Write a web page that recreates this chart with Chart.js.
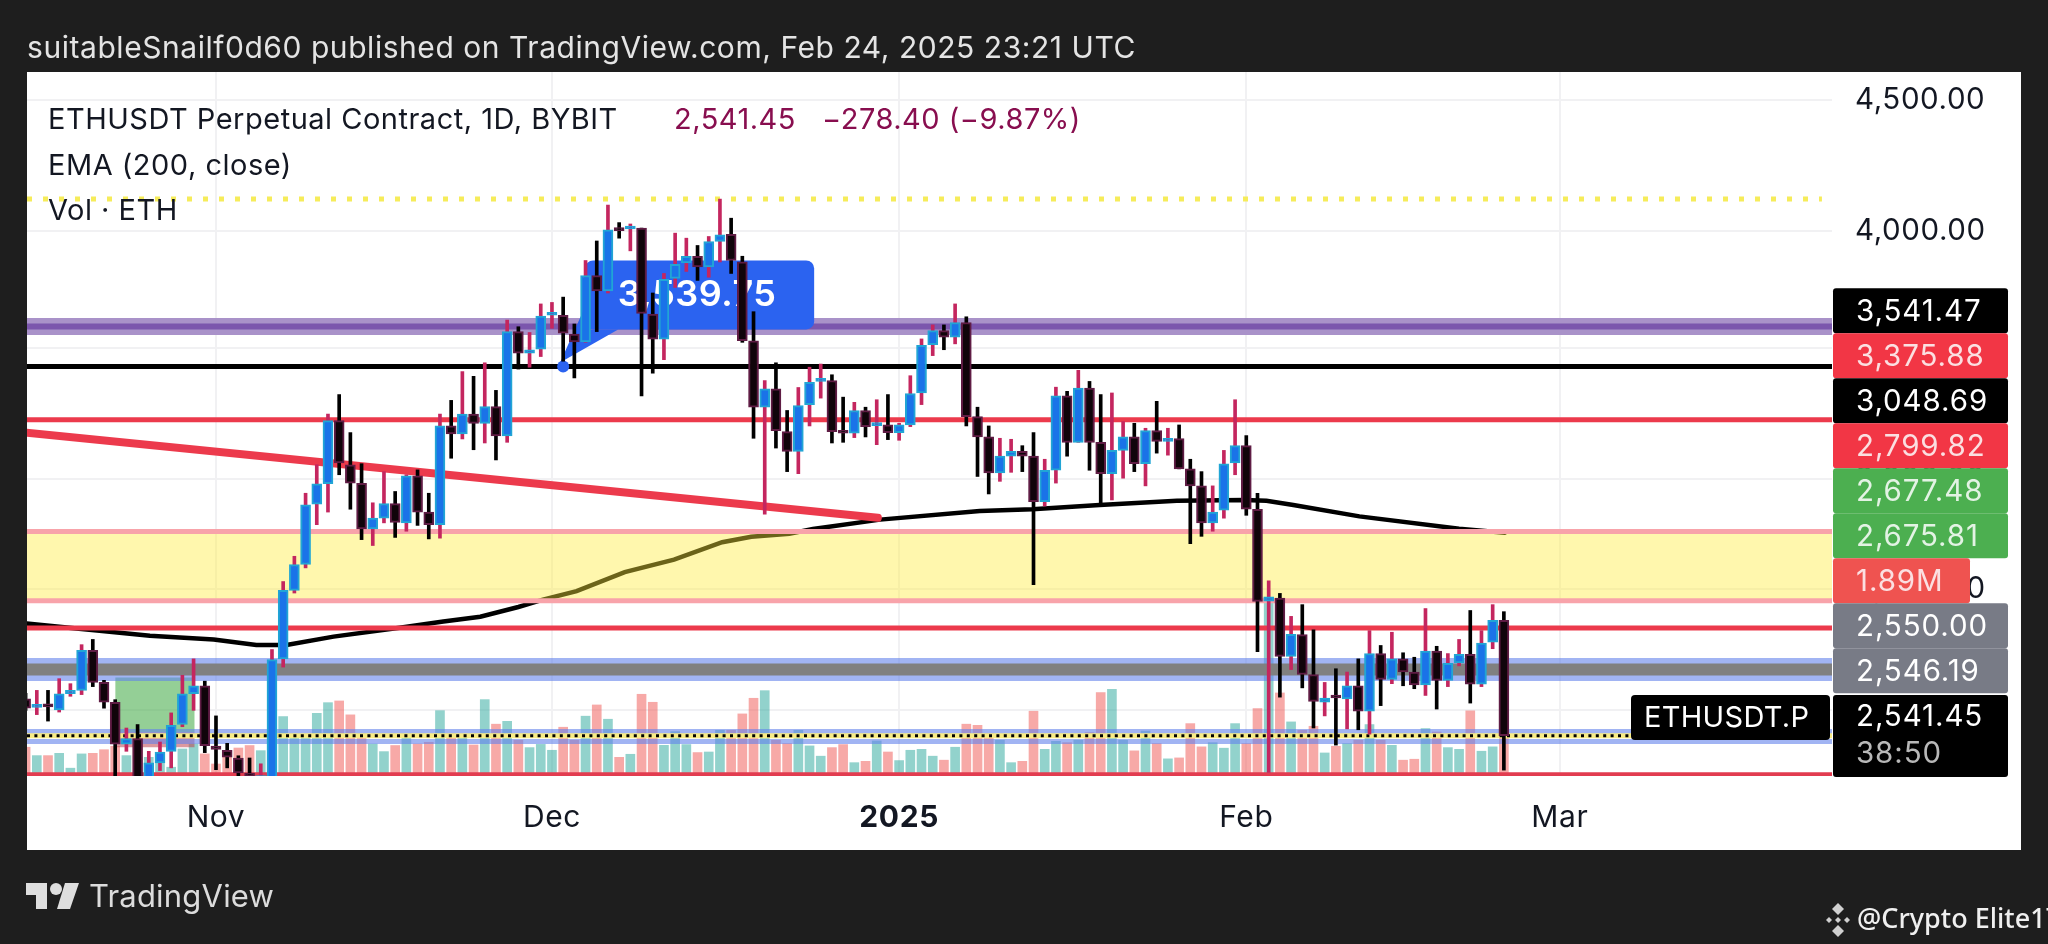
<!DOCTYPE html>
<html>
<head>
<meta charset="utf-8">
<title>ETHUSDT</title>
<script src="https://cdn.jsdelivr.net/npm/chart.js@4/dist/chart.umd.min.js"></script>
<style>
  html, body { margin: 0; padding: 0; background: #1e1e1e; }
  canvas { display: block; }
</style>
</head>
<body>
<canvas id="chart" width="2048" height="944"></canvas>
<script>
// days counted from 1 Nov 2024, first candle is 15 Oct
const firstDay = -17;
const opens = [2627,2607,2611,2601,2639,2647,2744,2666,2619,2522,2535,2430,2480,2506,2567,2639,2658,2518,2508,2491,2456,2445,2420,2723,2896,2964,3129,3187,3373,3242,3188,3060,3090,3131,3077,3210,3107,3072,3357,3333,3393,3365,3416,3327,3654,3584,3597,3708,3708,3646,3620,3843,3790,4006,4007,4010,3712,3629,3833,3887,3910,3873,3962,3988,3890,3624,3414,3471,3340,3281,3422,3494,3497,3340,3335,3404,3358,3360,3337,3360,3458,3611,3657,3636,3684,3385,3324,3218,3267,3281,3267,3136,3226,3449,3308,3473,3308,3216,3284,3324,3245,3343,3311,3319,3230,3181,3077,3112,3247,3298,3115,2868,2876,2729,2783,2685,2619,2633,2627,2658,2598,2736,2673,2723,2691,2660,2742,2671,2713,2734,2662,2764,2819];
const highs = [2640,2647,2647,2675,2663,2758,2771,2671,2625,2559,2567,2506,2527,2594,2683,2723,2669,2587,2524,2496,2491,2478,2746,2919,2986,3160,3242,3393,3453,3337,3245,3133,3222,3165,3213,3227,3160,3393,3435,3525,3510,3553,3466,3692,3670,3651,3746,3751,3769,3679,3895,3964,4094,4030,4025,4010,3783,3850,3992,3974,3948,3980,4116,4046,3910,3720,3497,3553,3404,3475,3539,3549,3515,3445,3429,3414,3437,3453,3365,3512,3630,3676,3676,3746,3703,3414,3357,3320,3317,3298,3337,3258,3476,3463,3529,3494,3453,3458,3370,3365,3350,3432,3350,3360,3258,3222,3181,3284,3437,3328,3160,2921,2888,2829,2859,2795,2666,2699,2691,2723,2793,2756,2789,2738,2727,2849,2754,2736,2771,2844,2793,2859,2841];
const lows = [2600,2590,2575,2596,2633,2637,2656,2605,2410,2506,2410,2400,2463,2469,2562,2600,2503,2465,2469,2440,2440,2440,2400,2703,2889,2955,3072,3107,3213,3115,3031,3015,3077,3037,3054,3070,3033,3035,3261,3318,3286,3306,3256,3308,3533,3539,3573,3665,3558,3505,3619,3654,3783,3974,3929,3449,3520,3563,3802,3857,3826,3837,3890,3850,3619,3320,3101,3291,3222,3216,3357,3442,3306,3308,3322,3324,3301,3316,3314,3355,3422,3576,3595,3614,3357,3208,3158,3194,3220,3222,2911,3124,3189,3267,3308,3226,3127,3141,3203,3222,3181,3276,3270,3230,3020,3040,3054,3090,3213,3098,2741,2459,2631,2697,2653,2559,2587,2520,2557,2555,2545,2611,2663,2658,2651,2635,2603,2656,2706,2617,2656,2748,2464];
const closes = [2605,2611,2608,2639,2647,2744,2666,2619,2522,2535,2430,2480,2504,2565,2639,2658,2519,2510,2493,2458,2451,2452,2721,2896,2964,3127,3187,3373,3247,3189,3060,3090,3131,3078,3210,3107,3072,3357,3333,3393,3365,3416,3327,3654,3584,3595,3705,3714,3649,3620,3843,3790,4004,4001,4012,3714,3629,3830,3882,3910,3873,3962,3986,3895,3624,3414,3471,3343,3281,3419,3491,3501,3340,3335,3404,3355,3363,3337,3360,3456,3609,3657,3636,3684,3385,3324,3218,3267,3281,3267,3136,3226,3449,3308,3473,3308,3216,3284,3324,3245,3343,3311,3319,3230,3181,3077,3107,3245,3298,3115,2867,2879,2729,2784,2685,2621,2629,2629,2658,2598,2736,2673,2723,2691,2660,2742,2671,2712,2734,2662,2762,2819,2541.45];
// volume in millions
const volumes = [1.35,0.91,0.91,1.03,0.25,1.0,1.03,1.22,1.4,0.91,1.7,0.82,1.0,0.3,1.26,1.52,1.0,0.47,0.91,1.31,1.44,1.17,2.57,2.96,2.05,1.87,3.13,3.69,3.78,3.05,2.05,1.52,1.12,1.44,2.05,1.52,1.61,3.27,2.05,1.96,1.47,3.85,2.56,2.71,1.72,1.33,1.5,1.19,2.4,1.72,2.98,3.57,2.82,0.82,0.98,4.13,3.71,1.45,2.17,1.49,1.07,1.1,2.24,2.24,3.1,3.92,4.32,1.72,1.54,2.24,1.42,0.88,1.33,1.49,0.54,0.61,1.68,1.1,0.65,1.19,1.24,0.88,0.67,1.35,2.56,2.5,2.07,1.72,0.54,0.61,3.24,1.24,1.66,1.59,1.72,2.12,4.22,4.39,1.72,1.16,2.2,1.54,0.74,0.79,2.59,1.37,1.59,1.3,2.59,1.54,3.38,8.9,4.2,2.68,2.24,2.45,1.05,1.4,1.54,1.72,2.54,1.72,1.45,0.67,0.72,2.33,2.15,1.33,1.24,3.26,1.14,1.37,1.89];
const emaDays = [-17,-10.4,-5.9,-0.2,3.6,6.3,10.5,16.4,20.3,23.6,27,29.2,32.2,36.5,40.9,45.2,47.8,51.2,53.3,59.3,68.2,72.9,78.9,85.8,91.8,93.8,96.2,102.1,111,115.1];
const emaValues = [2811,2793,2780,2771,2757,2757,2778,2800,2816,2828,2853,2872,2894,2944,2977,3024,3039,3047,3060,3086,3110,3115,3127,3139,3141,3139,3127,3095,3061,3050];
const priceTicks = [4500,4000,3600,3200,2900,2600];
const monthDays = [0,30,61,92,120];
const monthLabels = ['Nov','Dec','2025','Feb','Mar'];
// horizontal drawings
const purpleLevel = 3671, blackLevel = 3541.47, redLevels = [3375.88,2799.82], floorLevel = 2455;
const zoneTop = 3053, zoneBottom = 2869, greyLevel = 2697;
const blueUpper = 2551, blueLower = 2528, lastPrice = 2541.45, dottedTop = 4116;
const trendDays = [-17,59.1], trendPrices = [3337,3091];
const boxDays = [-9,-1.9], boxTarget = 2678, boxEntry = 2549, boxStop = 2515;
const noteDay = 31, notePrice = 3541.47, noteText = '3,539.75';
const xMin = -16.875, xMax = 144.3;

const priceRows = [
  ['3,541.47', '#000000', '#ffffff'],
  ['3,375.88', '#f23645', '#fbdfe1'],
  ['3,048.69', '#000000', '#ffffff'],
  ['2,799.82', '#f23645', '#fbdfe1'],
  ['2,677.48', '#4caf50', '#e3f3e4'],
  ['2,675.81', '#4caf50', '#e3f3e4'],
  ['1.89M', '#ef5350', '#fbdfe1'],
  ['2,550.00', '#787b86', '#ffffff'],
  ['2,546.19', '#787b86', '#ffffff']
];

const font = 'Inter, "Noto Sans", sans-serif';

function hLine(value, color, width, order, dash) {
  return {
    type: 'line', order,
    data: [{ x: xMin, y: value }, { x: xMax, y: value }],
    borderColor: color, borderWidth: width, borderDash: dash || [],
    pointRadius: 0, fill: false, yAxisID: 'y'
  };
}

function xyLine(xs, ys, color, width, order) {
  return {
    type: 'line', order,
    data: xs.map((x, i) => ({ x, y: ys[i] })),
    borderColor: color, borderWidth: width, borderCapStyle: 'round',
    pointRadius: 0, fill: false, yAxisID: 'y'
  };
}

const dayOf = i => firstDay + i;
const upIdx = opens.map((o, i) => closes[i] >= o ? i : -1).filter(i => i >= 0);
const downIdx = opens.map((o, i) => closes[i] < o ? i : -1).filter(i => i >= 0);

function candleBar(idx, from, to, color, thick, order, border) {
  return {
    type: 'bar', order, grouped: false, yAxisID: 'y',
    data: idx.map(i => ({ x: dayOf(i), y: [from[i], to[i]] })),
    backgroundColor: color, barThickness: thick, minBarLength: 3,
    borderColor: border || color, borderWidth: border ? 2 : 0, borderSkipped: false
  };
}

const wickUp = candleBar(upIdx, lows, highs, '#c4265f', 3, 4);
const datasets = [
  {
    type: 'bar', order: 50, grouped: false, yAxisID: 'vol',
    data: volumes.map((v, i) => ({ x: dayOf(i), y: v })),
    backgroundColor: closes.map((c, i) => c >= opens[i] ? 'rgba(38,166,154,0.5)' : 'rgba(239,83,80,0.5)'),
    barThickness: 9
  },
  xyLine(emaDays, emaValues, '#000000', 4.5, 40),
  Object.assign(hLine(zoneTop, '#f8a3aa', 5, 30), { fill: { value: zoneBottom }, backgroundColor: 'rgba(255,235,59,0.42)' }),
  hLine(zoneBottom, '#f8a3aa', 5, 29),
  Object.assign(xyLine(boxDays, [boxTarget, boxTarget], 'rgba(0,0,0,0)', 0, 28), { fill: { value: boxEntry }, backgroundColor: 'rgba(76,175,80,0.6)' }),
  Object.assign(xyLine(boxDays, [boxEntry, boxEntry], 'rgba(0,0,0,0)', 0, 27), { fill: { value: boxStop }, backgroundColor: 'rgba(190,70,80,0.55)' }),
  hLine(greyLevel, 'rgba(98,130,235,0.6)', 23, 26),
  hLine(greyLevel, '#808080', 12, 25),
  hLine(purpleLevel, '#a992c9', 17, 24),
  hLine(purpleLevel, '#7b56ad', 6, 23),
  hLine(blueUpper, 'rgba(98,130,235,0.6)', 5, 22),
  hLine(blueLower, 'rgba(98,130,235,0.6)', 5, 22),
  hLine(lastPrice, '#f8ec86', 5, 21),
  hLine(lastPrice, '#000000', 3, 20, [3, 4.4]),
  hLine(blackLevel, '#000000', 5, 19),
  hLine(redLevels[0], '#ec3a4c', 5, 18),
  hLine(redLevels[1], '#ec3a4c', 5, 18),
  hLine(floorLevel, '#e23c50', 4, 18),
  Object.assign(hLine(dottedTop, '#f6ec5a', 5, 17, [5, 11]), { data: [{ x: xMin, y: dottedTop }, { x: 143.4, y: dottedTop }] }),
  xyLine(trendDays, trendPrices, '#ec3a4c', 8, 16),
  wickUp,
  candleBar(downIdx, lows, highs, '#000000', 3, 3),
  candleBar(upIdx, opens, closes, '#1a73e8', 10, 2, '#21a5d5'),
  candleBar(downIdx, closes, opens, '#10040a', 10, 1, '#5f1c44')
];

function put(ctx, str, x, y, size, color, weight, align, spacing, family) {
  ctx.save();
  ctx.font = (weight || 400) + ' ' + size + 'px ' + (family || font);
  ctx.fillStyle = color;
  ctx.textAlign = align || 'left';
  ctx.textBaseline = 'alphabetic';
  ctx.letterSpacing = (spacing || 0) + 'px';
  ctx.fillText(str, x, y);
  ctx.restore();
}

function rrect(ctx, x, y, w, h, r, color) {
  ctx.fillStyle = color;
  ctx.beginPath();
  ctx.roundRect(x, y, w, h, r);
  ctx.fill();
}

// white card and header/footer around the pane
const framePlugin = {
  id: 'frame',
  beforeDraw(chart) {
    const ctx = chart.ctx;
    ctx.save();
    ctx.fillStyle = '#ffffff';
    ctx.fillRect(27, 72, 1994, 778);
    ctx.restore();
    ctx.letterSpacing = '0.6px';
  },
  afterDraw(chart) {
    const ctx = chart.ctx;
    put(ctx, 'suitableSnailf0d60 published on TradingView.com, Feb 24, 2025 23:21 UTC', 27, 58, 30, '#e4e4e4', 400, 'left', 0.55);
    put(ctx, 'ETHUSDT Perpetual Contract, 1D, BYBIT', 48, 129, 29, '#131722', 400, 'left', 0.5);
    put(ctx, '2,541.45', 674, 129, 29, '#880e4f', 400, 'left', 0.5);
    put(ctx, '\u2212278.40 (\u22129.87%)', 822, 129, 29, '#880e4f', 400, 'left', 0.5);
    put(ctx, 'EMA (200, close)', 48, 175, 29, '#131722', 400, 'left', 0.5);
    put(ctx, 'Vol \u00b7 ETH', 48, 220, 29, '#131722', 400, 'left', 0.5);

    // stacked price tags on the right
    priceRows.forEach((row, i) => {
      const w = row[0] === '1.89M' ? 137 : 175;
      const top = 288.3 + i * 45;
      rrect(ctx, 1833, top, w, 45, 3, row[1]);
      put(ctx, row[0], 1856, top + 33, 29.5, row[2], 400, 'left', 0.9);
    });
    rrect(ctx, 1833, 695, 175, 82, 3, '#000000');
    put(ctx, '2,541.45', 1856, 726, 29.5, '#ffffff', 400, 'left', 0.9);
    put(ctx, '38:50', 1856, 763, 29.5, '#b8b8b8', 400, 'left', 0.9);
    rrect(ctx, 1631, 695, 199, 45, 4, '#000000');
    put(ctx, 'ETHUSDT.P', 1644, 727, 29, '#ffffff', 400, 'left', 0.3);

    // TradingView mark
    ctx.fillStyle = '#dedede';
    ctx.fillRect(26, 883, 21, 12);
    ctx.fillRect(36, 895, 11, 14);
    ctx.beginPath();
    ctx.arc(56, 889, 6, 0, Math.PI * 2);
    ctx.fill();
    ctx.beginPath();
    ctx.moveTo(65, 883); ctx.lineTo(79, 883); ctx.lineTo(70, 909); ctx.lineTo(57, 909);
    ctx.closePath();
    ctx.fill();
    put(ctx, 'TradingView', 89, 907, 31, '#dcdcdc', 400, 'left', 0.2);

    // watermark with the small diamond
    ctx.fillStyle = '#d0d0d0';
    [[1838, 909, 6], [1829, 920, 3], [1847, 920, 3], [1838, 920, 3], [1838, 931, 6]].forEach(p => {
      ctx.beginPath();
      ctx.moveTo(p[0], p[1] - p[2]); ctx.lineTo(p[0] + p[2], p[1]); ctx.lineTo(p[0], p[1] + p[2]); ctx.lineTo(p[0] - p[2], p[1]);
      ctx.closePath();
      ctx.fill();
    });
    put(ctx, '@Crypto Elite17', 1857, 928, 27, '#f0f0f0', 500, 'left', 0, '"Noto Sans", sans-serif');
  }
};

// blue price note sits behind the candles
const notePlugin = {
  id: 'note',
  beforeDatasetDraw(chart, args) {
    if (chart.data.datasets[args.index] !== wickUp) return;
    const ctx = chart.ctx;
    const ax = chart.scales.x.getPixelForValue(noteDay);
    const ay = chart.scales.y.getPixelForValue(notePrice);
    ctx.save();
    ctx.fillStyle = '#2b63f0';
    ctx.beginPath();
    ctx.moveTo(ax - 3, ay - 4);
    ctx.lineTo(ax + 55, ay - 37);
    ctx.lineTo(ax + 22, ay - 37);
    ctx.lineTo(ax + 22, ay - 60);
    ctx.closePath();
    ctx.fill();
    rrect(ctx, ax + 22, ay - 106, 229, 69, 8, '#2b63f0');
    ctx.fillStyle = '#2b63f0';
    ctx.beginPath();
    ctx.arc(ax, ay, 6, 0, Math.PI * 2);
    ctx.fill();
    ctx.restore();
    put(ctx, noteText, ax + 134, ay - 60, 36, '#ffffff', 600, 'center', 0.5);
  }
};

new Chart(document.getElementById('chart'), {
  type: 'bar',
  data: { datasets },
  plugins: [framePlugin, notePlugin],
  options: {
    responsive: false,
    animation: false,
    devicePixelRatio: 1,
    layout: { padding: { left: 27, top: 72, right: 27, bottom: 94 } },
    plugins: { legend: { display: false }, tooltip: { enabled: false } },
    scales: {
      x: {
        type: 'linear', min: xMin, max: xMax, bounds: 'data', offset: false,
        grid: { color: '#f1f1f3', lineWidth: 2, offset: false, drawTicks: false },
        border: { display: false },
        afterBuildTicks: s => { s.ticks = monthDays.map(value => ({ value })); },
        afterFit: s => { s.height = 74; },
        ticks: {
          autoSkip: false, maxRotation: 0, padding: 24, color: '#131722',
          font: c => ({ family: font, size: 30, weight: c.index === 2 ? '700' : '400' }),
          callback: (v, i) => monthLabels[i]
        }
      },
      y: {
        type: 'logarithmic', position: 'right', min: 2451, max: 4614, bounds: 'data',
        grid: { color: '#f1f1f3', lineWidth: 2, drawTicks: false },
        border: { display: false },
        afterBuildTicks: s => { s.ticks = priceTicks.map(value => ({ value })); },
        afterFit: s => { s.width = 189; },
        ticks: {
          autoSkip: false, padding: 23, color: '#131722',
          font: { family: font, size: 29.5 },
          callback: v => v.toLocaleString('en-US', { minimumFractionDigits: 2 })
        }
      },
      vol: {
        type: 'linear', display: false, min: -0.16, max: 36.8, bounds: 'data'
      }
    }
  }
});
</script>
</body>
</html>
